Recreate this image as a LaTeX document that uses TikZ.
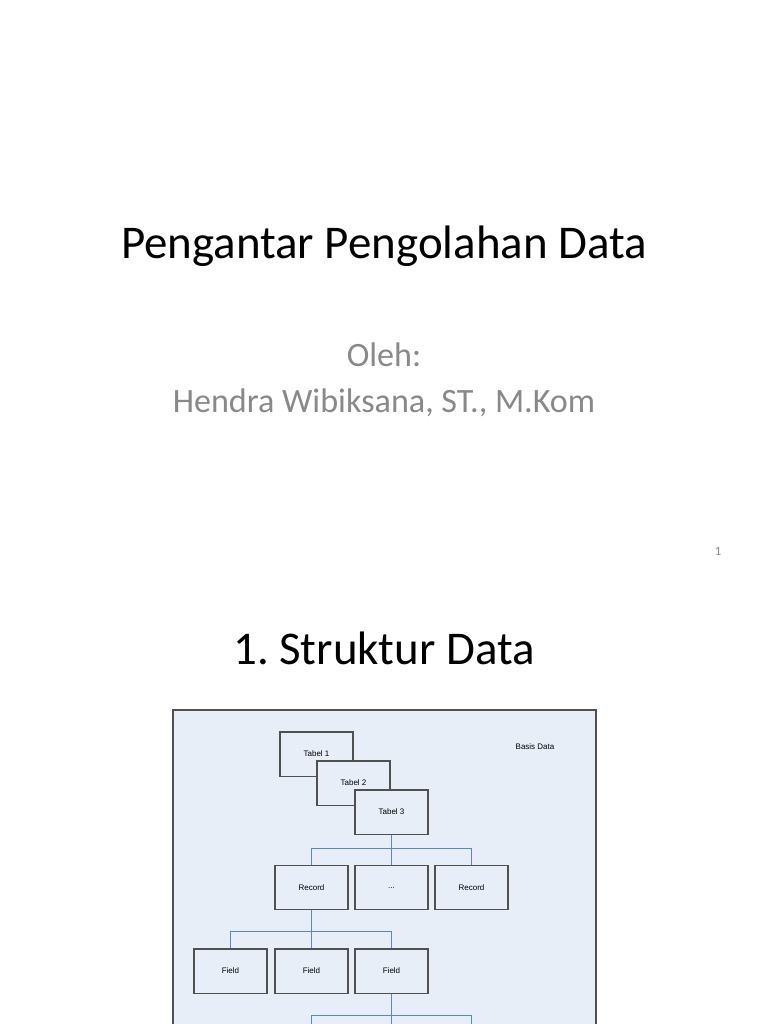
\documentclass[tikz,border=0pt]{standalone}
\usepackage{fontspec}
\setmainfont{Carlito}
\newfontfamily\diafont{Liberation Sans}
\definecolor{bgblue}{RGB}{232,238,248}
\definecolor{lineblue}{RGB}{85,135,210}
\definecolor{boxgray}{RGB}{80,80,80}
\definecolor{subgray}{RGB}{137,137,137}
\frenchspacing
\begin{document}
\begin{tikzpicture}[x=0.9375pt,y=-0.9375pt,
    box/.style = {draw=boxgray, fill=bgblue, line width=1pt, minimum width=68.4pt, minimum height=41.3pt, inner sep=0pt, font=\diafont\fontsize{7.5}{9}\selectfont},
    tree/.style = {draw=lineblue, line width=1pt},
    slidetext/.style = {anchor=base, inner sep=0pt}]
    \path[use as bounding box, clip] (0,0) rectangle (768,1024);
    \fill[white] (0,0) rectangle (768,1024);
    % slide 1
    \node[slidetext, font=\fontsize{44}{50}\selectfont] (title) at (384,258) {Pengantar Pengolahan Data};
    \node[slidetext, text=subgray, font=\fontsize{32}{38}\selectfont] (oleh) at (384,366) {Oleh:};
    \node[slidetext, text=subgray, font=\fontsize{32}{38}\selectfont] (author) at (384,412) {Hendra Wibiksana, ST., M.Kom};
    \node[slidetext, text=subgray, font=\fontsize{12}{14}\selectfont] (page) at (718,555) {1};
    % slide 2
    \node[slidetext, font=\fontsize{44}{50}\selectfont] (title2) at (384,664) {1. Struktur Data};
    \draw[draw=boxgray, fill=bgblue, line width=1pt] (173,710) rectangle (596,1040);
    \node[box] (t1) at (316.5,754) {Tabel 1};
    \node[box] (t2) at (353.5,783) {Tabel 2};
    \node[box] (t3) at (391.5,812) {Tabel 3};
    \node[font=\diafont\fontsize{7.5}{9}\selectfont] (basis) at (535,747) {Basis Data};
    \node[box] (r1) at (311.5,887.5) {Record};
    \node[box] (r2) at (391.5,887.5) {\raisebox{-1pt}{...}};
    \node[box] (r3) at (471.5,887.5) {Record};
    \node[box] (f1) at (230.5,971) {Field};
    \node[box] (f2) at (311.5,971) {Field};
    \node[box] (f3) at (391.5,971) {Field};
    \coordinate (c1) at (311.5,1030);
    \coordinate (c2) at (391.5,1030);
    \coordinate (c3) at (471.5,1030);
    \draw[tree] (t3.south) -- ++(0,14) -| (r1.north);
    \draw[tree] (t3.south) -- ++(0,14) -| (r3.north);
    \draw[tree] (t3.south) -- (r2.north);
    \draw[tree] (r1.south) -- ++(0,21) -| (f1.north);
    \draw[tree] (r1.south) -- ++(0,21) -| (f3.north);
    \draw[tree] (r1.south) -- (f2.north);
    \draw[tree] (f3.south) -- ++(0,22) -| (c1);
    \draw[tree] (f3.south) -- ++(0,22) -| (c3);
    \draw[tree] (f3.south) -- (c2);
\end{tikzpicture}
\end{document}
